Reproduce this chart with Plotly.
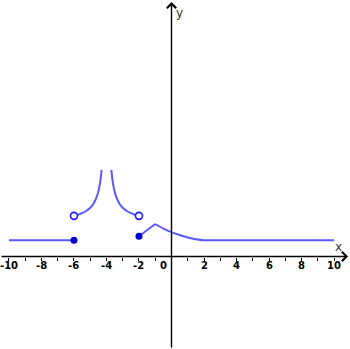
import plotly.graph_objects as go

# ---- data ----
left_x = [-10, -6]
left_y = [1, 1]

branch1_x = [-6, -5.75, -5.5, -5.25, -5, -4.8, -4.6, -4.5, -4.4, -4.35, -4.3]
branch1_y = [2.5, 2.57, 2.67, 2.8, 3.0, 3.25, 3.67, 4.0, 4.5, 4.86, 5.33]

branch2_x = [-3.7, -3.65, -3.6, -3.5, -3.4, -3.2, -3.0, -2.75, -2.5, -2.25, -2]
branch2_y = [5.33, 4.86, 4.5, 4.0, 3.67, 3.25, 3.0, 2.8, 2.67, 2.57, 2.5]

ramp_x = [-2, -1]
ramp_y = [1.25, 2.0]

decay_x = [-1, -0.5, 0, 0.5, 1, 1.5, 2, 2.5, 10]
decay_y = [2.0, 1.72, 1.5, 1.32, 1.17, 1.06, 1.0, 1.0, 1.0]

filled_x = [-6, -2]
filled_y = [1, 1.25]
open_x = [-6, -2]
open_y = [2.5, 2.5]

tick_vals = list(range(-10, 11))
label_vals = [-10, -8, -6, -4, -2, 0, 2, 4, 6, 8, 10]
label_text = ["-10", "-8", "-6", "-4", "-2", "0", "2", "4", "6", "8", "10"]

x_range = [-10.55, 10.98]
y_range = [-5.69, 15.78]

line_color = "rgba(70,70,255,0.9)"

fig = go.Figure()
for xs, ys, shp in [(left_x, left_y, "linear"), (branch1_x, branch1_y, "spline"),
                    (branch2_x, branch2_y, "spline"), (ramp_x, ramp_y, "linear"),
                    (decay_x, decay_y, "spline")]:
    fig.add_trace(go.Scatter(x=xs, y=ys, mode="lines",
                             line=dict(color=line_color, width=2, shape=shp, smoothing=0.6),
                             hoverinfo="skip", showlegend=False))

fig.add_trace(go.Scatter(x=filled_x, y=filled_y, mode="markers",
                         marker=dict(size=7, color="#0000cc", line=dict(width=0)),
                         showlegend=False, hoverinfo="skip"))
fig.add_trace(go.Scatter(x=open_x, y=open_y, mode="markers",
                         marker=dict(size=7, color="white", line=dict(width=1.6, color="#1a1aff")),
                         showlegend=False, hoverinfo="skip"))

annotations = []
# axis arrows
annotations.append(dict(x=10.86, y=0, ax=x_range[0], ay=0, xref="x", yref="y", axref="x", ayref="y",
                        showarrow=True, arrowhead=4, arrowsize=1.3, arrowwidth=1.4, arrowcolor="black", text=""))
annotations.append(dict(x=0, y=15.65, ax=0, ay=y_range[0], xref="x", yref="y", axref="x", ayref="y",
                        showarrow=True, arrowhead=4, arrowsize=1.3, arrowwidth=1.4, arrowcolor="black", text=""))
annotations.append(dict(x=10.3, y=0.6, text="x", showarrow=False, xref="x", yref="y",
                        font=dict(family="DejaVu Sans", size=12, color="#333")))
annotations.append(dict(x=0.5, y=15.0, text="y", showarrow=False, xref="x", yref="y",
                        font=dict(family="DejaVu Sans", size=12, color="#333")))
for v, t in zip(label_vals, label_text):
    annotations.append(dict(x=v, y=0, text=t, showarrow=False, xref="x", yref="y",
                            yshift=-9, xshift=(-8 if v == 0 else 0),
                            font=dict(family="DejaVu Sans", size=10, color="black", weight="bold")))

fig.update_layout(
    width=350, height=349,
    margin=dict(l=0, r=0, t=0, b=0),
    paper_bgcolor="white", plot_bgcolor="white",
    xaxis=dict(range=x_range, showgrid=False, zeroline=False, showline=False,
               tickvals=tick_vals, ticks="outside", ticklen=3, tickwidth=1, tickcolor="black",
               showticklabels=False, anchor="free",
               position=(0 - y_range[0]) / (y_range[1] - y_range[0])),
    yaxis=dict(range=y_range, visible=False),
    annotations=annotations,
)

fig.write_html("out.html")
